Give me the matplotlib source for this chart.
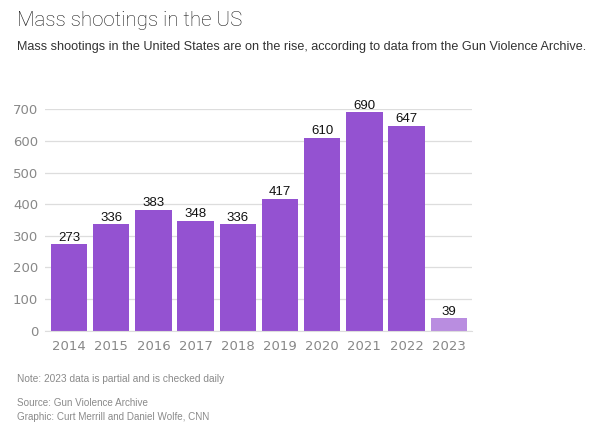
import matplotlib
matplotlib.use("Agg")
from matplotlib import pyplot as plt

# Data
years = ['2014', '2015', '2016', '2017', '2018', '2019', '2020', '2021', '2022', '2023']
shootings = [273, 336, 383, 348, 336, 417, 610, 690, 647, 39]
y_ticks = [0, 100, 200, 300, 400, 500, 600, 700]

bar_color = '#9452d1'
partial_color = '#b98de0'
colors = [bar_color] * (len(years) - 1) + [partial_color]

plt.rcParams['font.family'] = ['Liberation Sans', 'DejaVu Sans']

fig = plt.figure(figsize=(5.99, 4.34), dpi=100)
ax = fig.add_axes([45 / 599, 1 - 330.6 / 434, (472 - 45) / 599, (330.6 - 109.3) / 434])

x = list(range(len(years)))
bars = ax.bar(x, shootings, width=0.86, color=colors, zorder=2)

# value labels on top of the bars
for xi, val in zip(x, shootings):
    ax.text(xi, val + 2, str(val), ha='center', va='bottom', fontsize=9.5,
            color='#111111', clip_on=False, zorder=3)

ax.set_ylim(0, 700)
ax.set_xlim(-0.57, 9.55)
ax.set_yticks(y_ticks)
ax.set_xticks(x)
ax.set_xticklabels(years)
ax.grid(axis='y', color='#dddddd', linewidth=0.9, zorder=0)
ax.tick_params(axis='both', length=0, labelcolor='#888888')
ax.tick_params(axis='y', pad=5)
ax.tick_params(axis='x', pad=7)
for lab in ax.get_yticklabels() + ax.get_xticklabels():
    lab.set_family('DejaVu Sans')
    lab.set_fontsize(9.5)
for side in ['top', 'right', 'left']:
    ax.spines[side].set_visible(False)
ax.spines['bottom'].set_color('#dddddd')

# Titles and notes
fig.text(17 / 599, 1 - 20 / 434, 'Mass shootings in the US', fontsize=14.8,
         family=['Roboto', 'Liberation Sans'], fontweight='light',
         color='#1a1a1a', va='center', ha='left')
fig.text(17 / 599, 1 - 47 / 434,
         'Mass shootings in the United States are on the rise, according to data from the Gun Violence Archive.',
         fontsize=9.1, color='#333333', va='center', ha='left')
fig.text(17 / 599, 1 - 379 / 434, 'Note: 2023 data is partial and is checked daily',
         fontsize=7.25, color='#8a8a8a', va='center', ha='left')
fig.text(17 / 599, 1 - 403 / 434, 'Source: Gun Violence Archive',
         fontsize=7.1, color='#8a8a8a', va='center', ha='left')
fig.text(17 / 599, 1 - 417 / 434, 'Graphic: Curt Merrill and Daniel Wolfe, CNN',
         fontsize=7.1, color='#8a8a8a', va='center', ha='left')

plt.savefig('out.png', dpi=100)
